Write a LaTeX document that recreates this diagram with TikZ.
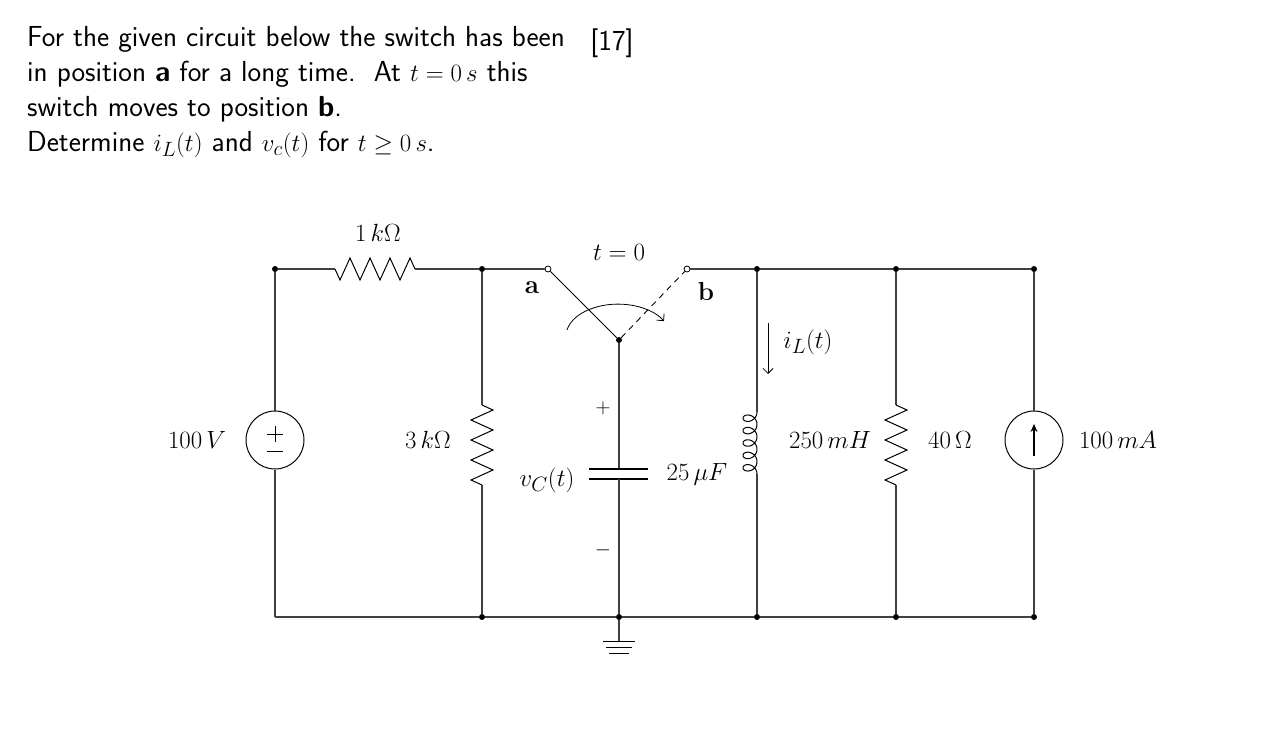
\documentclass[tikz,border=0pt]{standalone}
\usepackage{amsmath}
\usetikzlibrary{arrows.meta}
\begin{document}
\begin{tikzpicture}[x=1pt,y=-1pt,
  wire/.style={line width=1.2pt,black!75},
  dot/.style={circle,fill=black,inner sep=0pt,minimum size=6pt},
  term/.style={circle,draw,fill=white,inner sep=0pt,minimum size=6pt,line width=0.8pt},
  lbl/.style={font=\fontsize{29}{32}\selectfont},
  txt/.style={font=\sffamily\fontsize{29}{35}\selectfont,align=left,anchor=north west,inner sep=0pt}]
\useasboundingbox (0,0) rectangle (1267,739);
\node[txt] (q) at (27,26) {For the given circuit below the switch has been\\in position \textbf{a} for a long time.\ \ At $t=0\,s$ this\\switch moves to position \textbf{b}.\\Determine $i_L(t)$ and $v_c(t)$ for $t\geq 0\,s$.};
\node[font=\sffamily\fontsize{29}{32}\selectfont] (mk) at (612,43) {[17]};
% junctions
\node[dot] (t1) at (275,269) {};
\node[dot] (t2) at (482,269) {};
\node[term] (sa) at (548,269) {};
\node[term] (sb) at (687,269) {};
\node[dot] (t3) at (757,269) {};
\node[dot] (t4) at (896,269) {};
\node[dot] (t5) at (1034,269) {};
\node[dot] (pv) at (619,340) {};
\coordinate (b1) at (275,617);
\node[dot] (b2) at (482,617) {};
\node[dot] (b3) at (619,617) {};
\node[dot] (b4) at (757,617) {};
\node[dot] (b5) at (896,617) {};
\node[dot] (b6) at (1034,617) {};
% sources
\node[circle,draw,line width=1pt,minimum size=58pt,inner sep=0pt] (vs) at (275,440) {};
\draw[line width=0.9pt] (267,434) -- (283,434) (275,426) -- (275,442) (267,451) -- (283,451);
\node[circle,draw,line width=1pt,minimum size=58pt,inner sep=0pt] (cs) at (1034,440) {};
\draw[line width=1.2pt,-{Stealth[length=8pt,width=7pt]}] (1034,456) -- (1034,424);
% wires
\draw[wire] (t1) -- (335,269);
\draw[wire] (415,269) -- (t2) -- (sa);
\draw[wire] (sb) -- (t3) -- (t4) -- (t5);
\draw[wire] (b1) -- (b2) -- (b3) -- (b4) -- (b5) -- (b6);
\draw[wire] (t1) -- (vs.north); \draw[wire] (vs.south) -- (b1);
\draw[wire] (t5) -- (cs.north); \draw[wire] (cs.south) -- (b6);
% 1k resistor
\draw[line width=1pt] (335,269) -- (340,280) -- (350,258) -- (360,280) -- (370,258) -- (380,280) -- (390,258) -- (400,280) -- (410,258) -- (415,269);
% 3k resistor
\draw[wire] (t2) -- (482,405);
\draw[line width=1pt] (482,405) -- (493,410) -- (471,420) -- (493,430) -- (471,440) -- (493,450) -- (471,460) -- (493,470) -- (471,480) -- (482,485);
\draw[wire] (482,485) -- (b2);
% 40 resistor
\draw[wire] (t4) -- (896,405);
\draw[line width=1pt] (896,405) -- (907,410) -- (885,420) -- (907,430) -- (885,440) -- (907,450) -- (885,460) -- (907,470) -- (885,480) -- (896,485);
\draw[wire] (896,485) -- (b5);
% inductor
\draw[wire] (t3) -- (757,412);
\draw[line width=1pt] plot[domain=0:1800,samples=200,smooth] ({750+7*cos(\x)},{412+\x/360*12.4+6*sin(\x)});
\draw[wire] (757,474) -- (b4);
% capacitor
\draw[wire] (pv) -- (619,469);
\draw[line width=1.8pt] (589,469) -- (648,469);
\draw[line width=1.8pt] (589,479) -- (648,479);
\draw[wire] (619,479) -- (b3);
% ground
\draw[wire] (b3) -- (619,641);
\draw[line width=1pt] (603,641) -- (635,641) (606,647) -- (632,647) (609,653) -- (629,653);
% switch
\draw[line width=1pt] (sa) -- (pv);
\draw[line width=0.9pt,dash pattern=on 6pt off 5pt] (pv) -- (sb);
\draw[line width=0.8pt,-{Straight Barb[length=5pt]}] (567,330) arc (-169:-28:52 and 32);
% iL arrow
\draw[line width=0.8pt,-{Straight Barb[length=5pt]}] (768,323) -- (768,374);
% labels
\node[lbl] at (378,233) {$1\,k\Omega$};
\node[lbl] at (428,440) {$3\,k\Omega$};
\node[lbl] at (197,440) {$100\,V$};
\node[lbl] at (547,480) {$v_C(t)$};
\node[lbl] at (697,474) {$25\,\mu F$};
\node[lbl] at (830,440) {$250\,mH$};
\node[lbl] at (950,440) {$40\,\Omega$};
\node[lbl] at (1118,440) {$100\,mA$};
\node[lbl] at (808,342) {$i_L(t)$};
\node[font=\fontsize{20}{20}\selectfont] at (603,408) {$+$};
\node[font=\fontsize{20}{20}\selectfont] at (603,550) {$-$};
\node[lbl,font=\fontsize{24}{24}\selectfont] at (619,252) {$t=0$};
\node[lbl,font=\fontsize{26}{26}\selectfont] at (532,288) {\textbf{a}};
\node[lbl,font=\fontsize{26}{26}\selectfont] at (706,292) {\textbf{b}};
\end{tikzpicture}
\end{document}
